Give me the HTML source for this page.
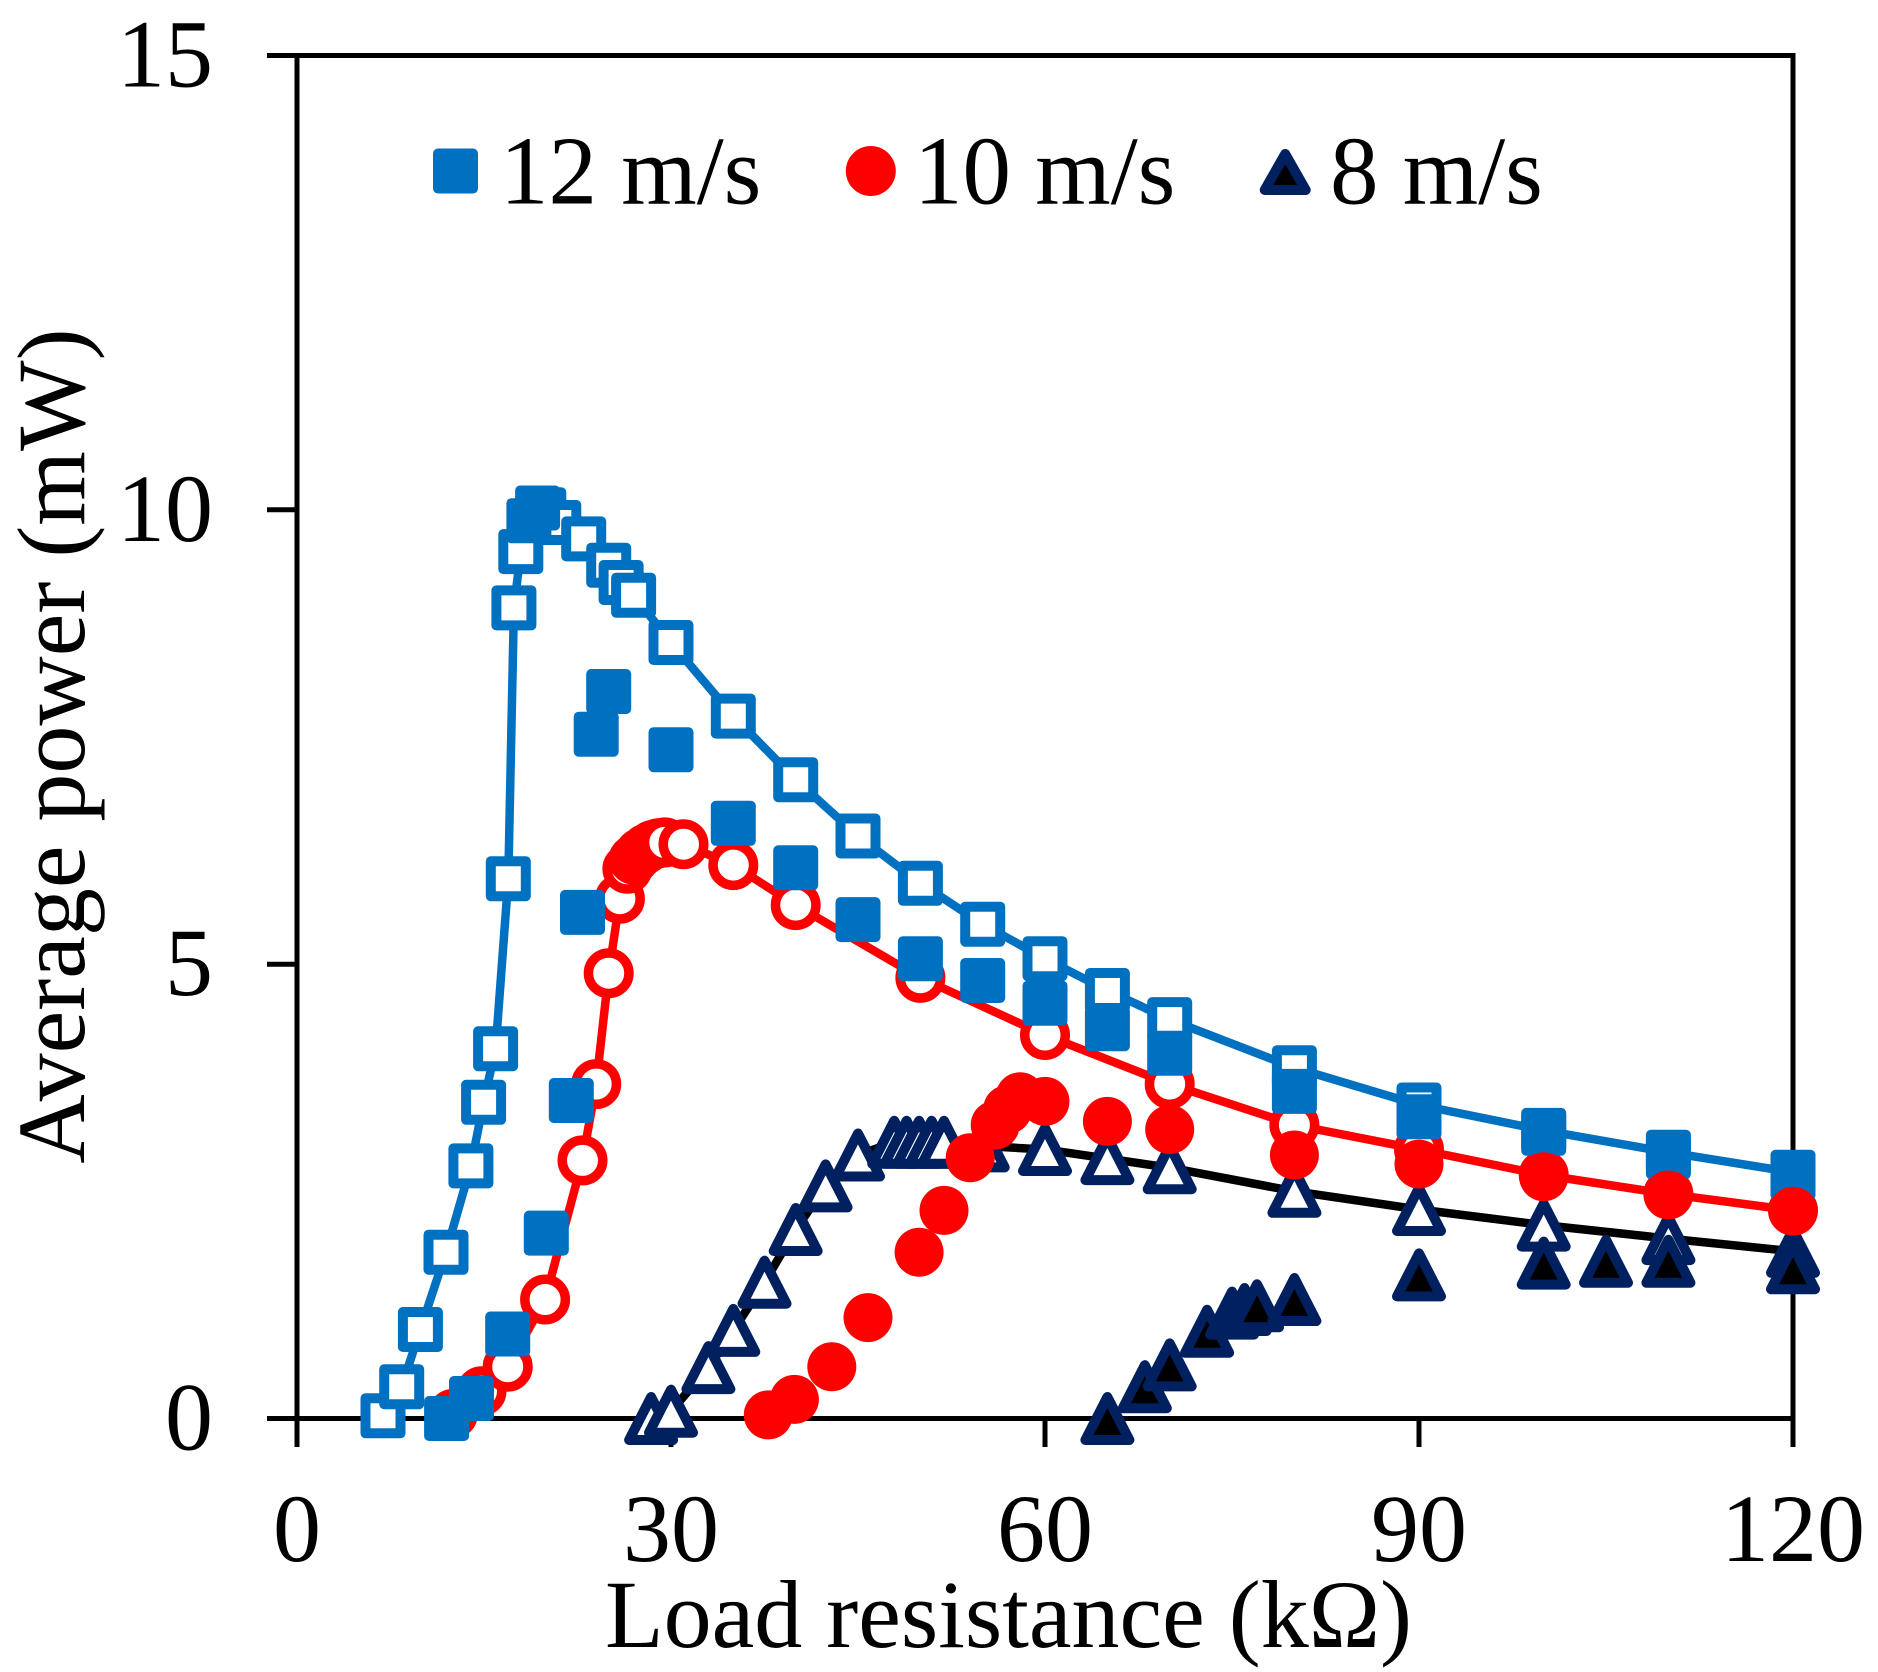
<!DOCTYPE html>
<html><head><meta charset="utf-8"><style>
html,body{margin:0;padding:0;background:#fff;}
svg{display:block;}
text{font-family:"Liberation Serif","Times New Roman",serif;fill:#000;}
.os{fill:#fff;stroke:#0070C0;stroke-width:10;stroke-linejoin:round;}
.fs{fill:#0070C0;stroke:#0070C0;stroke-width:10;stroke-linejoin:round;}
.oc{fill:#fff;stroke:#FF0000;stroke-width:9.5;}
.fc{fill:#FF0000;}
.ot{fill:#fff;stroke:#002060;stroke-width:10;stroke-linejoin:round;}
.ft{fill:#000;stroke:#002060;stroke-width:10;stroke-linejoin:round;}
</style></head><body>
<svg width="1878" height="1672" viewBox="0 0 1878 1672" xmlns="http://www.w3.org/2000/svg">
<rect width="1878" height="1672" fill="#fff"/>
<!-- frame & ticks -->
<g stroke="#000" stroke-width="5" fill="none" stroke-linecap="butt">
<path d="M267,55.5 H1793 V1447"/>
<path d="M297,55.5 V1447"/>
<path d="M267,1418.5 H1793"/>
<path d="M267,509.8 H297 M267,964.2 H297"/>
<path d="M671,1418.5 V1447 M1045,1418.5 V1447 M1419,1418.5 V1447"/>
</g>
<!-- tick labels -->
<g font-size="96" text-anchor="end">
<text x="213" y="86.5">15</text>
<text x="213" y="540.8">10</text>
<text x="213" y="995.2">5</text>
<text x="213" y="1449.5">0</text>
</g>
<g font-size="96" text-anchor="middle">
<text x="297" y="1561">0</text>
<text x="671" y="1561">30</text>
<text x="1045" y="1561">60</text>
<text x="1419" y="1561">90</text>
<text x="1793" y="1561">120</text>
</g>
<text x="1008.5" y="1647" font-size="96" text-anchor="middle">Load resistance (kΩ)</text>
<text transform="translate(84,746) rotate(-90)" font-size="96" text-anchor="middle">Average power (mW)</text>

<!-- 12 m/s simulation line -->
<polyline fill="none" stroke="#0070C0" stroke-width="8.5" stroke-linejoin="round" points="383,1415.8 401.7,1386.7 420.4,1329.5 446,1252.2 470.9,1165.9 483.6,1102.3 495.6,1048.7 508.3,878.7 513.9,607.9 520.8,551.6 543.8,509.8 558.8,522.5 583.7,538.9 608.7,565.2 621.1,582.5 633.6,595.2 671,642.5 733.3,716.1 795.7,779.7 858,836 920.4,883.3 982.7,924.2 1045,958.7 1107.4,990.5 1169.7,1019.6 1294.4,1067.7 1419,1105 1543.7,1130.4 1668.4,1152.3 1793,1172.3"/>
<g>
<rect class="os" x="365.5" y="1398.3" width="35" height="35"/>
<rect class="os" x="384.2" y="1369.2" width="35" height="35"/>
<rect class="os" x="402.9" y="1312" width="35" height="35"/>
<rect class="os" x="428.5" y="1234.7" width="35" height="35"/>
<rect class="os" x="453.4" y="1148.4" width="35" height="35"/>
<rect class="os" x="466.1" y="1084.8" width="35" height="35"/>
<rect class="os" x="478.1" y="1031.2" width="35" height="35"/>
<rect class="os" x="490.8" y="861.2" width="35" height="35"/>
<rect class="os" x="496.4" y="590.4" width="35" height="35"/>
<rect class="os" x="503.3" y="534.1" width="35" height="35"/>
<rect class="os" x="526.3" y="492.3" width="35" height="35"/>
<rect class="os" x="541.3" y="505" width="35" height="35"/>
<rect class="os" x="566.2" y="521.4" width="35" height="35"/>
<rect class="os" x="591.2" y="547.7" width="35" height="35"/>
<rect class="os" x="603.6" y="565" width="35" height="35"/>
<rect class="os" x="616.1" y="577.7" width="35" height="35"/>
<rect class="os" x="653.5" y="625" width="35" height="35"/>
<rect class="os" x="715.8" y="698.6" width="35" height="35"/>
<rect class="os" x="778.2" y="762.2" width="35" height="35"/>
<rect class="os" x="840.5" y="818.5" width="35" height="35"/>
<rect class="os" x="902.9" y="865.8" width="35" height="35"/>
<rect class="os" x="965.2" y="906.7" width="35" height="35"/>
<rect class="os" x="1027.5" y="941.2" width="35" height="35"/>
<rect class="os" x="1089.9" y="973" width="35" height="35"/>
<rect class="os" x="1152.2" y="1002.1" width="35" height="35"/>
<rect class="os" x="1276.9" y="1050.2" width="35" height="35"/>
<rect class="os" x="1401.5" y="1087.5" width="35" height="35"/>
<rect class="os" x="1526.2" y="1112.9" width="35" height="35"/>
<rect class="os" x="1650.9" y="1134.8" width="35" height="35"/>
<rect class="os" x="1775.5" y="1154.8" width="35" height="35"/>
</g>

<!-- 10 m/s simulation line -->
<polyline fill="none" stroke="#FF0000" stroke-width="8.5" stroke-linejoin="round" points="452.8,1414 481.5,1391.2 507.7,1366.7 545.1,1299.5 582.5,1160.4 596.2,1084.1 608.7,973.2 619.9,898.7 627.4,868.8 633.6,859.6 639.8,853.3 646.1,848.7 652.3,845.1 658.5,843.3 664.8,842.4 683.5,844.2 733.3,865.1 795.7,905.1 920.4,977.8 1045,1035 1169.7,1084.1 1294.4,1125 1419,1149.5 1543.7,1175 1668.4,1194.1 1793,1210.4"/>
<g>
<circle class="oc" cx="452.8" cy="1414" r="20.25"/>
<circle class="oc" cx="481.5" cy="1391.2" r="20.25"/>
<circle class="oc" cx="507.7" cy="1366.7" r="20.25"/>
<circle class="oc" cx="545.1" cy="1299.5" r="20.25"/>
<circle class="oc" cx="582.5" cy="1160.4" r="20.25"/>
<circle class="oc" cx="596.2" cy="1084.1" r="20.25"/>
<circle class="oc" cx="608.7" cy="973.2" r="20.25"/>
<circle class="oc" cx="619.9" cy="898.7" r="20.25"/>
<circle class="oc" cx="627.4" cy="868.8" r="20.25"/>
<circle class="oc" cx="633.6" cy="859.6" r="20.25"/>
<circle class="oc" cx="639.8" cy="853.3" r="20.25"/>
<circle class="oc" cx="646.1" cy="848.7" r="20.25"/>
<circle class="oc" cx="652.3" cy="845.1" r="20.25"/>
<circle class="oc" cx="658.5" cy="843.3" r="20.25"/>
<circle class="oc" cx="664.8" cy="842.4" r="20.25"/>
<circle class="oc" cx="683.5" cy="844.2" r="20.25"/>
<circle class="oc" cx="733.3" cy="865.1" r="20.25"/>
<circle class="oc" cx="795.7" cy="905.1" r="20.25"/>
<circle class="oc" cx="920.4" cy="977.8" r="20.25"/>
<circle class="oc" cx="1045" cy="1035" r="20.25"/>
<circle class="oc" cx="1169.7" cy="1084.1" r="20.25"/>
<circle class="oc" cx="1294.4" cy="1125" r="20.25"/>
<circle class="oc" cx="1419" cy="1149.5" r="20.25"/>
<circle class="oc" cx="1543.7" cy="1175" r="20.25"/>
<circle class="oc" cx="1668.4" cy="1194.1" r="20.25"/>
<circle class="oc" cx="1793" cy="1210.4" r="20.25"/>
</g>

<!-- 8 m/s simulation line -->
<polyline fill="none" stroke="#000" stroke-width="8.5" stroke-linejoin="round" points="651.1,1418.5 671,1411.2 708.4,1367.6 733.3,1330.4 764.5,1282.2 795.7,1229.5 825.6,1185.9 858,1155 894.2,1142.3 906.6,1142.3 919.1,1142.3 931.6,1142.3 944,1142.3 982.7,1145.9 1045,1149.5 1107.4,1158.6 1169.7,1167.7 1294.4,1191.3 1419,1209.5 1543.7,1225.1 1668.4,1238.6 1793,1251.3"/>
<g>
<path class="ot" d="M651.1,1397L673.1,1440L629.1,1440Z"/>
<path class="ot" d="M671,1389.7L693,1432.7L649,1432.7Z"/>
<path class="ot" d="M708.4,1346.1L730.4,1389.1L686.4,1389.1Z"/>
<path class="ot" d="M733.3,1308.9L755.3,1351.9L711.3,1351.9Z"/>
<path class="ot" d="M764.5,1260.7L786.5,1303.7L742.5,1303.7Z"/>
<path class="ot" d="M795.7,1208L817.7,1251L773.7,1251Z"/>
<path class="ot" d="M825.6,1164.4L847.6,1207.4L803.6,1207.4Z"/>
<path class="ot" d="M858,1133.5L880,1176.5L836,1176.5Z"/>
<path class="ot" d="M894.2,1120.8L916.2,1163.8L872.2,1163.8Z"/>
<path class="ot" d="M906.6,1120.8L928.6,1163.8L884.6,1163.8Z"/>
<path class="ot" d="M919.1,1120.8L941.1,1163.8L897.1,1163.8Z"/>
<path class="ot" d="M931.6,1120.8L953.6,1163.8L909.6,1163.8Z"/>
<path class="ot" d="M944,1120.8L966,1163.8L922,1163.8Z"/>
<path class="ot" d="M982.7,1124.4L1004.7,1167.4L960.7,1167.4Z"/>
<path class="ot" d="M1045,1128L1067,1171L1023,1171Z"/>
<path class="ot" d="M1107.4,1137.1L1129.4,1180.1L1085.4,1180.1Z"/>
<path class="ot" d="M1169.7,1146.2L1191.7,1189.2L1147.7,1189.2Z"/>
<path class="ot" d="M1294.4,1169.8L1316.4,1212.8L1272.4,1212.8Z"/>
<path class="ot" d="M1419,1188L1441,1231L1397,1231Z"/>
<path class="ot" d="M1543.7,1203.6L1565.7,1246.6L1521.7,1246.6Z"/>
<path class="ot" d="M1668.4,1217.1L1690.4,1260.1L1646.4,1260.1Z"/>
<path class="ot" d="M1793,1229.8L1815,1272.8L1771,1272.8Z"/>
</g>

<!-- 12 m/s experiment -->
<g>
<rect class="fs" x="429.1" y="1401" width="35" height="35"/>
<rect class="fs" x="454" y="1381" width="35" height="35"/>
<rect class="fs" x="490.2" y="1316.5" width="35" height="35"/>
<rect class="fs" x="528.8" y="1215.6" width="35" height="35"/>
<rect class="fs" x="553.8" y="1083" width="35" height="35"/>
<rect class="fs" x="565" y="894.9" width="35" height="35"/>
<rect class="fs" x="511.4" y="503.2" width="35" height="35"/>
<rect class="fs" x="520.1" y="490.5" width="35" height="35"/>
<rect class="fs" x="578.7" y="716.7" width="35" height="35"/>
<rect class="fs" x="591.2" y="674" width="35" height="35"/>
<rect class="fs" x="653.5" y="732.2" width="35" height="35"/>
<rect class="fs" x="715.8" y="805.8" width="35" height="35"/>
<rect class="fs" x="778.2" y="850.3" width="35" height="35"/>
<rect class="fs" x="840.5" y="902.1" width="35" height="35"/>
<rect class="fs" x="902.9" y="941.2" width="35" height="35"/>
<rect class="fs" x="965.2" y="963" width="35" height="35"/>
<rect class="fs" x="1027.5" y="985.7" width="35" height="35"/>
<rect class="fs" x="1089.9" y="1011.2" width="35" height="35"/>
<rect class="fs" x="1152.2" y="1035.7" width="35" height="35"/>
<rect class="fs" x="1276.9" y="1073.9" width="35" height="35"/>
<rect class="fs" x="1401.5" y="1099.3" width="35" height="35"/>
<rect class="fs" x="1526.2" y="1115.7" width="35" height="35"/>
<rect class="fs" x="1650.9" y="1139.3" width="35" height="35"/>
<rect class="fs" x="1775.5" y="1160.2" width="35" height="35"/>
</g>

<!-- 10 m/s experiment -->
<g>
<circle class="fc" cx="768.3" cy="1414.9" r="24.5"/>
<circle class="fc" cx="794.4" cy="1399.4" r="24.5"/>
<circle class="fc" cx="831.8" cy="1366.7" r="24.5"/>
<circle class="fc" cx="868" cy="1317.6" r="24.5"/>
<circle class="fc" cx="919.1" cy="1252.2" r="24.5"/>
<circle class="fc" cx="944" cy="1210.4" r="24.5"/>
<circle class="fc" cx="970.2" cy="1157.7" r="24.5"/>
<circle class="fc" cx="995.2" cy="1125" r="24.5"/>
<circle class="fc" cx="1007.6" cy="1109.5" r="24.5"/>
<circle class="fc" cx="1020.1" cy="1096.8" r="24.5"/>
<circle class="fc" cx="1045" cy="1101.4" r="24.5"/>
<circle class="fc" cx="1107.4" cy="1121.4" r="24.5"/>
<circle class="fc" cx="1169.7" cy="1129.5" r="24.5"/>
<circle class="fc" cx="1294.4" cy="1155" r="24.5"/>
<circle class="fc" cx="1419" cy="1164.1" r="24.5"/>
<circle class="fc" cx="1543.7" cy="1176.8" r="24.5"/>
<circle class="fc" cx="1668.4" cy="1195" r="24.5"/>
<circle class="fc" cx="1793" cy="1211.3" r="24.5"/>
</g>

<!-- 8 m/s experiment -->
<g>
<path class="ft" d="M1107.4,1397L1129.4,1440L1085.4,1440Z"/>
<path class="ft" d="M1144.8,1365.2L1166.8,1408.2L1122.8,1408.2Z"/>
<path class="ft" d="M1169.7,1343.4L1191.7,1386.4L1147.7,1386.4Z"/>
<path class="ft" d="M1207.1,1309.8L1229.1,1352.8L1185.1,1352.8Z"/>
<path class="ft" d="M1232,1291.6L1254,1334.6L1210,1334.6Z"/>
<path class="ft" d="M1244.5,1288L1266.5,1331L1222.5,1331Z"/>
<path class="ft" d="M1257,1284.3L1279,1327.3L1235,1327.3Z"/>
<path class="ft" d="M1294.4,1278L1316.4,1321L1272.4,1321Z"/>
<path class="ft" d="M1419,1253.4L1441,1296.4L1397,1296.4Z"/>
<path class="ft" d="M1543.7,1241.6L1565.7,1284.6L1521.7,1284.6Z"/>
<path class="ft" d="M1606,1239.8L1628,1282.8L1584,1282.8Z"/>
<path class="ft" d="M1668.4,1239.8L1690.4,1282.8L1646.4,1282.8Z"/>
<path class="ft" d="M1793,1246.2L1815,1289.2L1771,1289.2Z"/>
</g>

<!-- legend -->
<rect class="fs" x="438" y="153.5" width="35" height="35"/>
<text x="500" y="203.6" font-size="97">12 m/s</text>
<circle class="fc" cx="870.8" cy="171" r="25"/>
<text x="914" y="203.6" font-size="97">10 m/s</text>
<path class="ft" d="M1285.2,154L1305.7,190L1264.7,190Z"/>
<text x="1330" y="203.6" font-size="97">8 m/s</text>
</svg>
</body></html>
